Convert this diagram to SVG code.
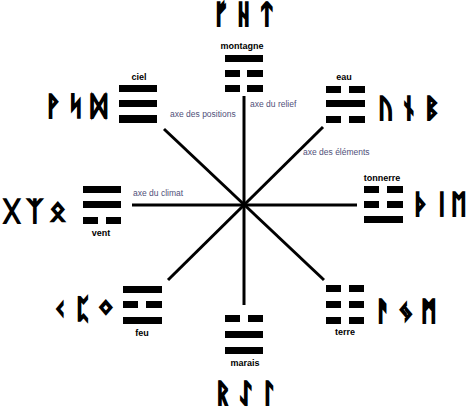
<svg xmlns="http://www.w3.org/2000/svg" width="474" height="409" viewBox="0 0 474 409">
<style>
.bar{fill:#000}
.lbl{font-family:"Liberation Sans",Arial,sans-serif;font-weight:bold;font-size:9px;fill:#000;text-anchor:middle}
.axe{font-family:"Liberation Sans",Arial,sans-serif;font-size:8.5px;fill:#50507a}
.rune{font-family:"DejaVu Sans","Noto Sans",sans-serif;font-weight:bold;font-size:26px;fill:#000;stroke:#000;stroke-width:1.6;letter-spacing:7px}
.ax{stroke:#000;stroke-width:3;fill:none}
</style>
<rect width="474" height="409" fill="#fff"/>
<g id="connectors">
<line class="ax" x1="244" y1="96" x2="244" y2="305"/>
<line class="ax" x1="132" y1="205" x2="357" y2="205"/>
<line class="ax" x1="164" y1="129" x2="324" y2="280"/>
<line class="ax" x1="323" y1="127" x2="168" y2="280"/>
<text class="axe" x="250" y="107">axe du relief</text>
<text class="axe" x="170" y="117">axe des positions</text>
<text class="axe" x="303" y="155">axe des éléments</text>
<text class="axe" x="133" y="196">axe du climat</text>
</g>
<g id="montagne">
<text class="rune" x="213" y="23">ᚠᚺᛏ</text>
<text class="lbl" x="242" y="49">montagne</text>
<rect class="bar" x="225" y="55" width="38" height="7"/>
<rect class="bar" x="225" y="70" width="15" height="7"/><rect class="bar" x="247" y="70" width="16" height="7"/>
<rect class="bar" x="225" y="85" width="15" height="7"/><rect class="bar" x="247" y="85" width="16" height="7"/>
</g>
<g id="ciel">
<text class="rune" x="45" y="115">ᚹᛋᛞ</text>
<text class="lbl" x="139" y="80">ciel</text>
<rect class="bar" x="119" y="85" width="38" height="7"/>
<rect class="bar" x="119" y="100" width="38" height="7"/>
<rect class="bar" x="119" y="115" width="38" height="8"/>
</g>
<g id="eau">
<text class="rune" x="378" y="117">ᚢᚾᛒ</text>
<text class="lbl" x="344" y="80">eau</text>
<rect class="bar" x="326" y="86" width="15" height="7"/><rect class="bar" x="349" y="86" width="16" height="7"/>
<rect class="bar" x="326" y="100" width="39" height="7"/>
<rect class="bar" x="326" y="116" width="15" height="7"/><rect class="bar" x="349" y="116" width="16" height="7"/>
</g>
<g id="vent">
<text class="rune" x="4" y="220">ᚷᛉᛟ</text>
<text class="lbl" x="101" y="236">vent</text>
<rect class="bar" x="83" y="186" width="38" height="7"/>
<rect class="bar" x="83" y="201" width="38" height="7"/>
<rect class="bar" x="83" y="217" width="15" height="7"/><rect class="bar" x="106" y="217" width="15" height="7"/>
</g>
<g id="tonnerre">
<text class="rune" x="413 434 451" y="213" style="letter-spacing:0">ᚦᛁᛖ</text>
<text class="lbl" x="382" y="181">tonnerre</text>
<rect class="bar" x="364" y="186" width="15" height="7"/><rect class="bar" x="387" y="186" width="16" height="7"/>
<rect class="bar" x="364" y="201" width="15" height="7"/><rect class="bar" x="387" y="201" width="16" height="7"/>
<rect class="bar" x="364" y="216" width="39" height="7"/>
</g>
<g id="feu">
<text class="rune" x="52" y="318">ᚲᛈᛜ</text>
<text class="lbl" x="142" y="336">feu</text>
<rect class="bar" x="123" y="286" width="39" height="7"/>
<rect class="bar" x="123" y="301" width="15" height="7"/><rect class="bar" x="146" y="301" width="16" height="7"/>
<rect class="bar" x="123" y="317" width="39" height="7"/>
</g>
<g id="terre">
<text class="rune" x="375" y="320">ᚨᛃᛗ</text>
<text class="lbl" x="345" y="335">terre</text>
<rect class="bar" x="326" y="285" width="15" height="7"/><rect class="bar" x="349" y="285" width="15" height="7"/>
<rect class="bar" x="326" y="301" width="15" height="7"/><rect class="bar" x="349" y="301" width="15" height="7"/>
<rect class="bar" x="326" y="317" width="15" height="7"/><rect class="bar" x="349" y="317" width="15" height="7"/>
</g>
<g id="marais">
<text class="rune" x="215" y="402">ᚱᛇᛚ</text>
<text class="lbl" x="245" y="366">marais</text>
<rect class="bar" x="225" y="315" width="15" height="7"/><rect class="bar" x="248" y="315" width="15" height="7"/>
<rect class="bar" x="225" y="331" width="38" height="7"/>
<rect class="bar" x="225" y="347" width="38" height="7"/>
</g>
</svg>
